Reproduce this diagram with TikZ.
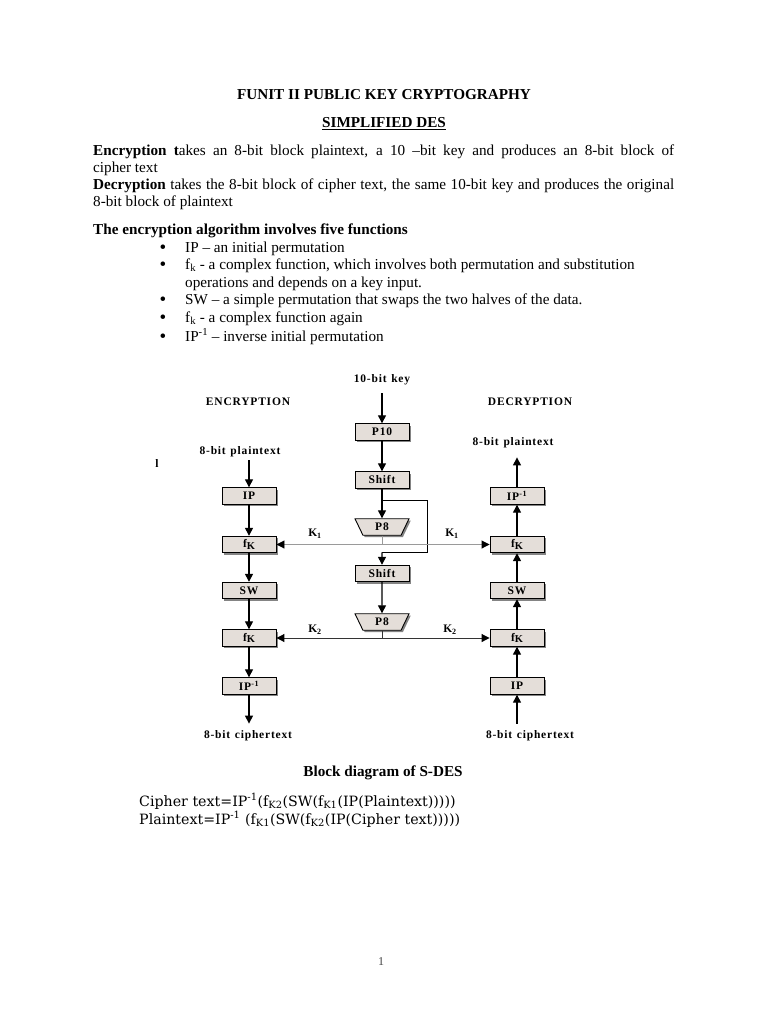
\documentclass[tikz,border=0pt]{standalone}
\usepackage{fontspec}
\setmainfont{Liberation Serif}
\newfontfamily\diagfont{Liberation Serif}[LetterSpace=7]
\newfontfamily\formfont{DejaVu Serif}
\usetikzlibrary{positioning,shapes.geometric,arrows.meta,calc,shadows}
\definecolor{boxfill}{HTML}{E4DED9}
\definecolor{kgrey}{HTML}{9A9A9A}
\definecolor{pgnum}{HTML}{444444}
\tikzset{
  body/.style ={font=\fontsize{15.2}{17}\selectfont, inner sep=0pt},
  dlbl/.style ={font=\diagfont\bfseries\fontsize{11.5}{13}\selectfont, inner sep=0pt},
  form/.style ={font=\formfont\fontsize{14.2}{17}\selectfont, inner sep=0pt},
  blk/.style  ={rectangle, draw=black, line width=0.9pt, fill=boxfill,
                minimum width=54pt, minimum height=16.5pt, inner sep=0pt,
                font=\diagfont\bfseries\fontsize{11.5}{13}\selectfont,
                drop shadow={shadow xshift=1.8pt, shadow yshift=-1.8pt, fill=black!60, opacity=0.8}},
  pbox/.style ={blk, trapezium, shape border rotate=180, trapezium angle=70,
                trapezium stretches=true},
  fl/.style   ={-{Triangle[width=8pt,length=8pt]}, line width=1.3pt},
  kfl/.style  ={-{Triangle[width=8pt,length=8pt,color=black]}},
  wire/.style ={line width=1pt},
  kone/.style ={draw=kgrey, line width=0.9pt},
  ktwo/.style ={draw=black!80, line width=1pt}
}
\newcommand{\fK}{f{\fontsize{10.5}{11}\selectfont\raisebox{-1.5pt}{K}}}

\begin{document}
\begin{tikzpicture}[x=1pt,y=-1pt]
  \fill[white] (0,0) rectangle (768,1024);
  \useasboundingbox (0,0) rectangle (768,1024);

  % page text
  \node[body,anchor=base] (title) at (384,100) {\bfseries FUNIT II PUBLIC KEY CRYPTOGRAPHY};
  \node[body,anchor=base] (subttl) at (384,128) {\bfseries\underline{SIMPLIFIED DES}};
  \node[body,anchor=base west] (encpar) at (93,156)
    {\makebox[581pt][s]{\textbf{Encryption t}akes an 8-bit block plaintext, a 10 –bit key and produces an 8-bit block of}};
  \node[body,anchor=base west] (encpar2) at (93,173) {cipher text};
  \node[body,anchor=base west] (decpar) at (93,190)
    {\makebox[581pt][s]{\textbf{Decryption} takes the 8-bit block of cipher text, the same 10-bit key and produces the original}};
  \node[body,anchor=base west] (decpar2) at (93,207) {8-bit block of plaintext};
  \node[body,anchor=base west] (fivehd) at (93,235) {\bfseries The encryption algorithm involves five functions};
  \foreach \yy/\txt in {252/{IP – an initial permutation},
      269/{f\textsubscript{k} - a complex function, which involves both permutation and substitution},
      304/{SW – a simple permutation that swaps the two halves of the data.},
      322/{f\textsubscript{k} - a complex function again},
      341/{IP\textsuperscript{-1} – inverse initial permutation}}{
    \node[body,anchor=base,font=\fontsize{19}{19}\selectfont] (bul\yy) at (163,\yy+1) {\smash{\textbullet}};
    \node[body,anchor=base west] (item\yy) at (185,\yy) {\txt};
  }
  \node[body,anchor=base west] (item287) at (185,287) {operations and depends on a key input.};

  % diagram labels
  \node[dlbl] (keylbl) at (382,380) {10-bit\hspace{1pt} key};
  \node[dlbl] (enchd) at (248,402) {ENCRYPTION};
  \node[dlbl] (dechd) at (530,402) {DECRYPTION};
  \node[dlbl] (encin) at (240,452) {8-bit\hspace{1pt} plaintext};
  \node[dlbl] (decout) at (513,443) {8-bit\hspace{1pt} plaintext};
  \node[dlbl] (encout) at (248,736) {8-bit\hspace{1pt} ciphertext};
  \node[dlbl] (decin) at (530,736) {8-bit\hspace{1pt} ciphertext};
  \node[dlbl] (stray) at (157,464) {l};

  % key schedule
  \node[blk]  (p10)    at (382,432)   {P10};
  \node[blk]  (shiftA) at (382,480)   {Shift};
  \node[pbox] (peA)    at (382,527)   {P8};
  \node[blk]  (shiftB) at (382,573.5) {Shift};
  \node[pbox] (peB)    at (382,622)   {P8};

  % encryption column
  \node[blk] (encIP)  at (249,496)   {IP};
  \node[blk] (encFa)  at (249,544.5) {\fK};
  \node[blk] (encSW)  at (249,590.5) {SW};
  \node[blk] (encFb)  at (249,638)   {\fK};
  \node[blk] (encIPi) at (249,686)   {IP\textsuperscript{-1}};

  % decryption column
  \node[blk] (decIPi) at (517,496)   {IP\textsuperscript{-1}};
  \node[blk] (decFa)  at (517,544.5) {\fK};
  \node[blk] (decSW)  at (517,590.5) {SW};
  \node[blk] (decFb)  at (517,638)   {\fK};
  \node[blk] (decIP)  at (517,686)   {IP};

  \draw[fl] ([yshift=-8pt]keylbl.south) -- (p10);
  \draw[fl] (p10) -- (shiftA);
  \draw[fl] (shiftA) -- (peA);
  \coordinate (brA) at ($(shiftA.south)!0.39!(peA.north)$);
  \coordinate (brB) at ($(peA.south)!0.57!(shiftB.north)$);
  \draw[wire] (brA) -- ++(45,0) |- (brB);
  \draw[fl] (brB) -- (shiftB);
  \draw[fl] (shiftB) -- (peB);

  \draw[fl] ([yshift=-3pt]encin.south -| encIP.north) -- (encIP);
  \foreach \a/\b in {encIP/encFa, encFa/encSW, encSW/encFb, encFb/encIPi}
    \draw[fl] (\a) -- (\b);
  \draw[fl] (encIPi) -- ([yshift=7pt]encout.north -| encIPi.south);

  \draw[fl] ([yshift=7pt]decin.north -| decIP.south) -- (decIP);
  \foreach \a/\b in {decIP/decFb, decFb/decSW, decSW/decFa, decFa/decIPi}
    \draw[fl] (\a) -- (\b);
  \draw[fl] (decIPi) -- ([yshift=-9pt]decout.south -| decIPi.north);

  % subkeys
  \coordinate (kA) at (peA.south |- encFa.east);
  \draw[kone] (peA.south) -- (kA);
  \draw[kone,kfl] (kA) -- (encFa.east);
  \draw[kone,kfl] (kA) -- (decFa.west);
  \coordinate (kB) at (peB.south |- encFb.east);
  \draw[ktwo] (peB.south) -- (kB);
  \draw[ktwo,kfl] (kB) -- (encFb.east);
  \draw[ktwo,kfl] (kB) -- (decFb.west);
  \node[dlbl] (kAl) at (315,534) {K\textsubscript{1}};
  \node[dlbl] (kAr) at (452,534) {K\textsubscript{1}};
  \node[dlbl] (kBl) at (315,630) {K\textsubscript{2}};
  \node[dlbl] (kBr) at (450,630) {K\textsubscript{2}};

  % caption and formulas
  \node[body,anchor=base] (cap) at (383,776) {\bfseries Block diagram of S-DES};
  \node[form,anchor=base west] (ctf) at (139,806)
    {Cipher text=IP\textsuperscript{-1}(f\textsubscript{K2}(SW(f\textsubscript{K1}(IP(Plaintext)))))};
  \node[form,anchor=base west] (ptf) at (139,824)
    {Plaintext=IP\textsuperscript{-1} (f\textsubscript{K1}(SW(f\textsubscript{K2}(IP(Cipher text)))))};
  \node[body,anchor=base,text=pgnum,font=\fontsize{12}{14}\selectfont] (pg) at (381,965) {1};
\end{tikzpicture}
\end{document}
